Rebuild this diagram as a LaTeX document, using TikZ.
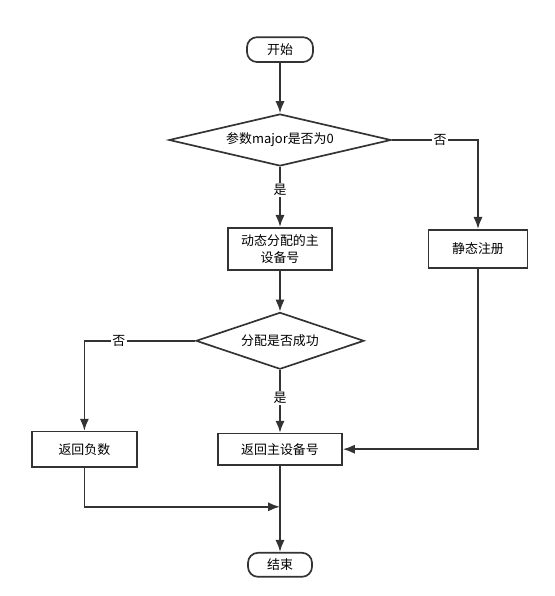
\documentclass[tikz,border=0pt]{standalone}
\usepackage{fontspec}
\newfontfamily\cjk{Noto Sans CJK SC}
\usetikzlibrary{positioning,shapes.geometric,arrows.meta}

\begin{document}
\begin{tikzpicture}[-{Latex[length=3mm,width=2.3mm]} ,node distance =2.3 cm and 4.9cm ,on grid ,
line width=1.2pt ,draw=black!80 ,
font=\cjk\fontsize{9.2}{12}\selectfont ,
term/.style ={ rectangle ,rounded corners=2.5mm ,draw ,minimum width =1.65 cm ,minimum height =0.62 cm},
proc/.style ={ rectangle ,draw ,align=center ,inner sep=1pt},
test/.style ={ diamond ,draw ,inner sep=0pt},
lbl/.style ={ fill=white ,inner sep=1pt ,anchor=center}]
\useasboundingbox (0,0) rectangle (13.85,-14.9);
\node[term] (start) at (7,-1.24) {开始};
\node[test,shape aspect=4.27,minimum width=5.55cm,minimum height=1.3cm] (major) [below =2.26cm of start] {参数major是否为0};
\node[proc,minimum width=2.6cm,minimum height=1.05cm] (alloc) [below =2.72cm of major] {动态分配的主\\设备号};
\node[proc,minimum width=2.48cm,minimum height=0.95cm] (static) [right =4.95cm of alloc] {静态注册};
\node[test,shape aspect=2.95,minimum width=4.2cm,minimum height=1.42cm] (ok) [below =2.3cm of alloc] {分配是否成功};
\node[proc,minimum width=3.1cm,minimum height=0.78cm] (ret) [below =2.71cm of ok] {返回主设备号};
\node[proc,minimum width=2.62cm,minimum height=0.88cm] (neg) [left =4.89cm of ret] {返回负数};
\node[term,minimum width=1.6cm,minimum height=0.6cm] (end) [below =2.89cm of ret] {结束};
\coordinate[below =1.44cm of ret] (join);
\path (start) edge (major);
\path (major) edge node[lbl,pos=0.38] {是} (alloc);
\draw (major) -| node[lbl,pos=0.28] {否} (static);
\path (alloc) edge (ok);
\draw (ok) -| node[lbl,pos=0.345] {否} (neg);
\path (ok) edge node[lbl,pos=0.45] {是} (ret);
\draw (static) |- (ret);
\draw (neg) |- (join);
\path (ret) edge (end);
\end{tikzpicture}
\end{document}
